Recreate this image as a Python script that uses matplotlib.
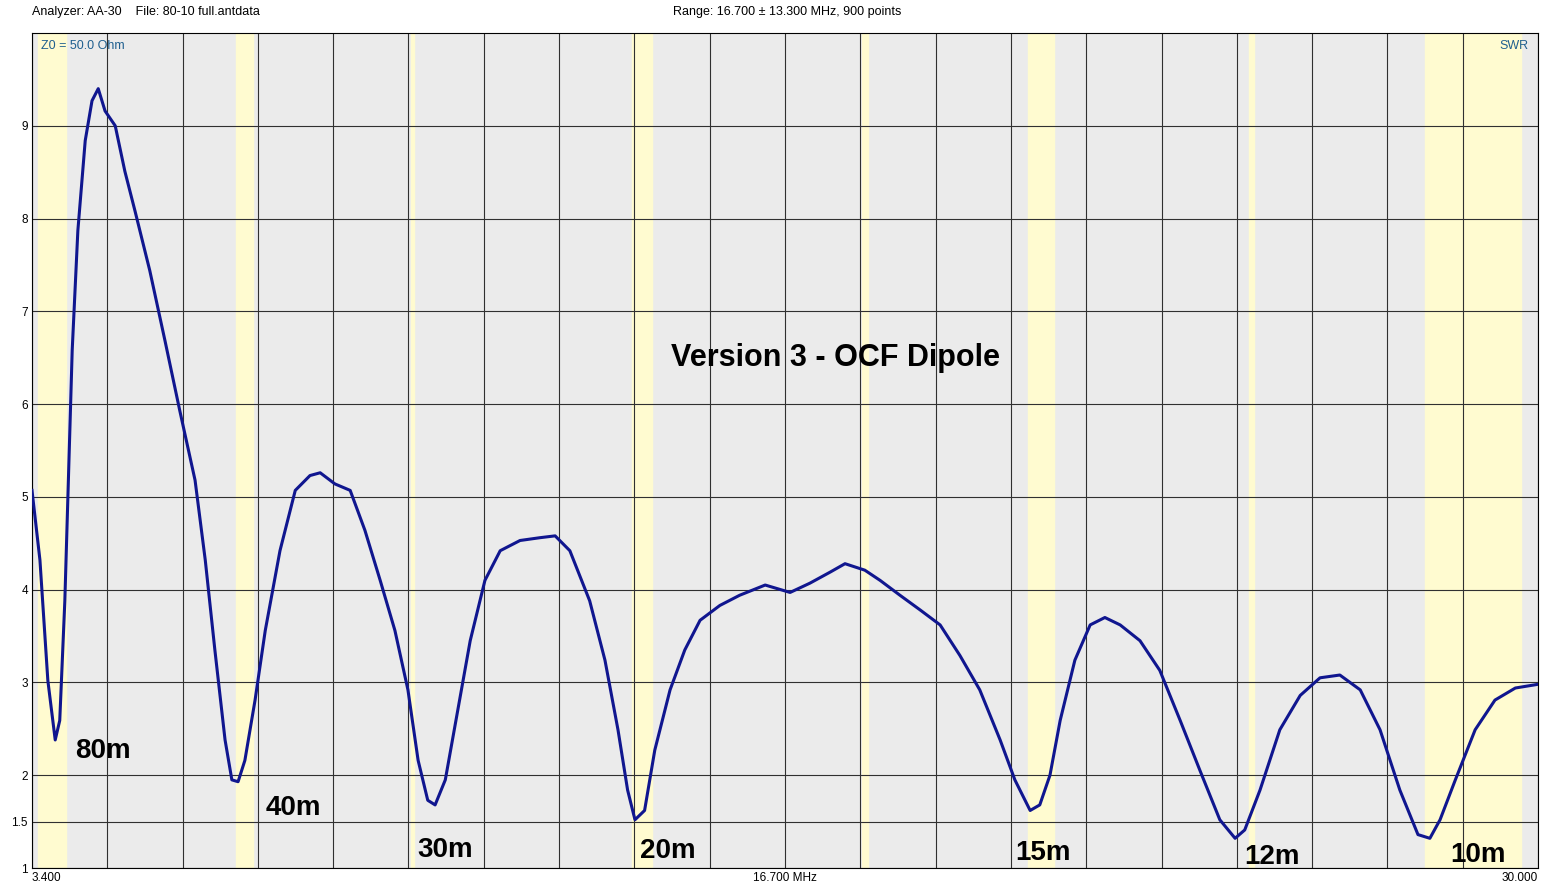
import matplotlib.pyplot as plt

plt.rcParams['font.family'] = ['Liberation Sans', 'DejaVu Sans']

# SWR trace (MHz, SWR)
freq = [3.40, 3.54, 3.68, 3.81, 3.89, 3.98, 4.11, 4.21, 4.34, 4.46, 4.57, 4.69, 4.87,
        5.04, 5.22, 5.48, 5.75, 6.01, 6.28, 6.46, 6.63, 6.81, 6.93, 7.04, 7.16, 7.34,
        7.52, 7.78, 8.05, 8.31, 8.49, 8.75, 9.02, 9.28, 9.55, 9.81, 10.04, 10.22, 10.39,
        10.52, 10.70, 10.92, 11.14, 11.40, 11.67, 12.02, 12.37, 12.64, 12.90, 13.25,
        13.52, 13.75, 13.92, 14.05, 14.22, 14.40, 14.67, 14.93, 15.20, 15.55, 15.90,
        16.35, 16.79, 17.14, 17.50, 17.76, 18.11, 18.38, 18.73, 19.09, 19.44, 19.79,
        20.14, 20.50, 20.76, 21.03, 21.20, 21.38, 21.56, 21.82, 22.09, 22.35, 22.62,
        22.97, 23.32, 23.68, 24.03, 24.38, 24.65, 24.82, 25.09, 25.44, 25.80, 26.15,
        26.50, 26.86, 27.21, 27.56, 27.88, 28.09, 28.27, 28.54, 28.89, 29.24, 29.60, 30.00]
swr = [5.07, 4.32, 3.02, 2.38, 2.59, 3.88, 6.58, 7.87, 8.84, 9.27, 9.40, 9.16, 9.00,
       8.51, 8.08, 7.44, 6.68, 5.93, 5.18, 4.32, 3.35, 2.38, 1.95, 1.93, 2.16, 2.81,
       3.56, 4.42, 5.07, 5.23, 5.26, 5.14, 5.07, 4.64, 4.10, 3.56, 2.92, 2.16, 1.73,
       1.68, 1.95, 2.70, 3.45, 4.10, 4.42, 4.53, 4.56, 4.58, 4.42, 3.88,
       3.24, 2.49, 1.84, 1.52, 1.62, 2.27, 2.92, 3.35, 3.67, 3.83, 3.94,
       4.05, 3.97, 4.07, 4.19, 4.28, 4.21, 4.10, 3.94, 3.78, 3.62, 3.29,
       2.92, 2.38, 1.95, 1.62, 1.68, 2.00, 2.59, 3.24, 3.62, 3.70, 3.62,
       3.45, 3.13, 2.59, 2.05, 1.52, 1.32, 1.41, 1.84, 2.49, 2.86, 3.05,
       3.08, 2.92, 2.49, 1.84, 1.36, 1.32, 1.52, 1.95, 2.49, 2.81, 2.94, 2.98]

# amateur bands (MHz)
bands = [(3.5, 4.0), (7.0, 7.3), (10.1, 10.15), (14.0, 14.35), (18.068, 18.168),
         (21.0, 21.45), (24.89, 24.99), (28.0, 29.7)]
band_names = ["80m", "40m", "30m", "20m", "15m", "12m", "10m"]
band_label_pos = [(4.16, 2.19), (7.52, 1.57), (10.2, 1.12), (14.14, 1.11),
                  (20.76, 1.09), (24.82, 1.04), (28.45, 1.07)]

fig = plt.figure(figsize=(15.59, 8.96), dpi=100)
ax = fig.add_axes([32 / 1559, 1 - 868 / 896, 1506 / 1559, 835 / 896])
ax.set_facecolor("#ebebeb")
for lo, hi in bands:
    ax.axvspan(lo, hi, color="#fffbd0", zorder=0)

ax.set_xlim(3.4, 30.0)
ax.set_ylim(1, 10)
step = (30.0 - 3.4) / 20
ax.set_xticks([3.4 + i * step for i in range(21)])
ax.set_xticklabels(["3.400"] + [""] * 9 + ["16.700 MHz"] + [""] * 9 + ["30.000"])
ax.set_yticks([1, 1.5, 2, 3, 4, 5, 6, 7, 8, 9])
ax.set_yticklabels(["1", "1.5", "2", "3", "4", "5", "6", "7", "8", "9"])
ax.grid(color="#303030", linewidth=0.8, zorder=1)
ax.tick_params(length=0, labelsize=8.5, pad=3)
xl = ax.get_xticklabels()
xl[0].set_horizontalalignment("left")
xl[-1].set_horizontalalignment("right")

ax.plot(freq, swr, color="#10168f", linewidth=2.2, zorder=3)

for name, (x, y) in zip(band_names, band_label_pos):
    ax.text(x, y, name, fontsize=20, fontweight="bold", va="baseline",
            ha="left", zorder=4)
ax.text(17.59, 6.41, "Version 3 - OCF Dipole", fontsize=22, fontweight="bold",
        ha="center", va="baseline", zorder=4)

ax.text(0.006, 0.992, "Z0 = 50.0 Ohm", transform=ax.transAxes, fontsize=9,
        color="#1f5f8f", va="top")
ax.text(0.994, 0.992, "SWR", transform=ax.transAxes, fontsize=9,
        color="#1f5f8f", va="top", ha="right")
fig.text(32 / 1559, 1 - 12 / 896, "Analyzer: AA-30    File: 80-10 full.antdata",
         fontsize=9, va="center")
fig.text(787 / 1559, 1 - 12 / 896, "Range: 16.700 ± 13.300 MHz, 900 points",
         fontsize=9, va="center", ha="center")

fig.savefig("out.png", dpi=100)
